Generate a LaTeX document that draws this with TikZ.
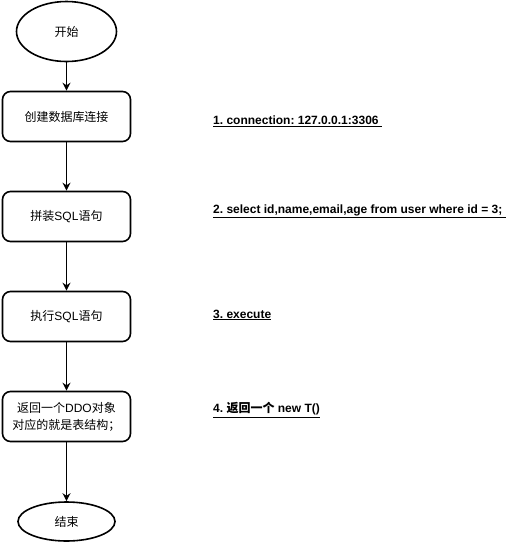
\documentclass[tikz,border=0pt]{standalone}
\usepackage{fontspec}
\setmainfont{Liberation Sans}
\newfontfamily\cjk{Noto Sans CJK SC}
\usetikzlibrary{shapes.geometric,arrows.meta}
\newcommand{\zh}[1]{{\cjk #1}}
\frenchspacing
\begin{document}
\begin{tikzpicture}[x=1pt,y=-1pt,
  proc/.style={draw,line width=1.6pt,rounded corners=8pt,minimum width=128pt,minimum height=50pt,
    font=\fontsize{12}{17}\selectfont,align=center,inner sep=0pt},
  term/.style={draw,ellipse,line width=1.6pt,font=\fontsize{12}{15}\selectfont,inner sep=0pt},
  flow/.style={draw,line width=1pt,-{Stealth[length=8pt,width=8pt]}},
  note/.style={anchor=west,font=\bfseries\fontsize{12}{14}\selectfont,inner sep=0pt}]
\useasboundingbox (0,0) rectangle (512,542);
\node[term,minimum width=100pt,minimum height=60pt] (start) at (66.5,31.5) {\zh{开始}};
\node[proc] (b1) at (66.5,116.5) {\zh{创建数据库连接}};
\node[proc] (b2) at (66.5,216.5) {\zh{拼装}SQL\zh{语句}};
\node[proc] (b3) at (66.5,316.5) {\zh{执行}SQL\zh{语句}};
\node[proc] (b4) at (66.5,416.5) {\zh{返回一个}DDO\zh{对象}\\\zh{对应的就是表结构；}};
\node[term,minimum width=97pt,minimum height=39pt] (end) at (66.5,521.5) {\zh{结束}};
\draw[flow] (start) -- (b1);
\draw[flow] (b1) -- (b2);
\draw[flow] (b2) -- (b3);
\draw[flow] (b3) -- (b4);
\draw[flow] (b4) -- (end);
\node[note] (n1) at (213,121) {\underline{1. connection: 127.0.0.1:3306\ }};
\node[note] (n2) at (213,211) {\underline{2. select id,name,email,age from user where id = 3;\ }};
\node[note] (n3) at (213,315) {\underline{3. execute}};
\node[note] (n4) at (213,410) {\underline{4. \zh{返回一个} new T()}};
\end{tikzpicture}
\end{document}
